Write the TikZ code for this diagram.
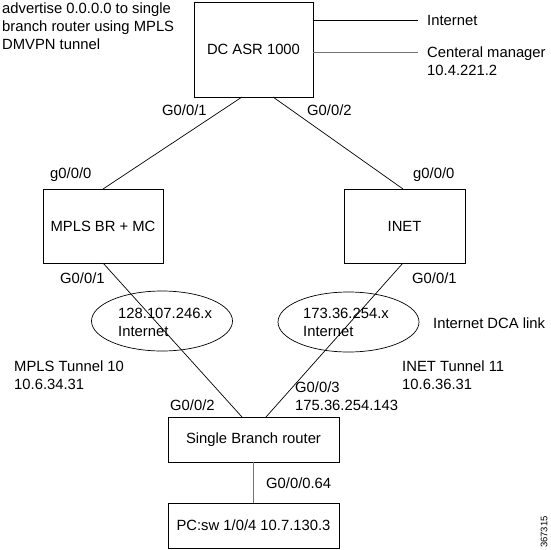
\documentclass[tikz,border=0pt]{standalone}
\usepackage{fontspec}
\setmainfont{Liberation Sans}
\usetikzlibrary{shapes.geometric}
\begin{document}
\begin{tikzpicture}[x=1pt,y=-1pt,
  every node/.style={font=\fontsize{14.8}{18}\selectfont},
  box/.style={draw,line width=0.7pt,inner sep=0pt},
  lbl/.style={anchor=west,inner sep=0pt,align=left},
  link/.style={line width=0.7pt},
  glink/.style={line width=0.8pt,draw=black!55},
  cloud/.style={draw,ellipse,line width=0.7pt,minimum width=141pt,minimum height=60pt,inner sep=0pt}]
\useasboundingbox (0,0) rectangle (550,550);
% boxes
\node[box,minimum width=119pt,minimum height=95pt] (dc) at (253.5,49.5) {DC ASR 1000};
\node[box,minimum width=120pt,minimum height=74pt] (mpls) at (103,226) {MPLS BR + MC};
\node[box,minimum width=121pt,minimum height=74pt] (inet) at (404.5,226) {INET};
\node[box,minimum width=171pt,minimum height=45pt] (br) at (253.5,439.5) {Single Branch router};
\node[box,minimum width=171pt,minimum height=45pt] (pc) at (253.5,525.5) {PC:sw 1/0/4 10.7.130.3};
% clouds
\node[cloud] (c1) at (162,321) {};
\node[cloud] (c2) at (348.5,322) {};
\node[lbl] (c1t) at (118,322) {128.107.246.x\\Internet};
\node[lbl] (c2t) at (303,322) {173.36.254.x\\Internet};
% side connectors
\coordinate (inetend) at (418,20);
\coordinate (cmend) at (418,52);
\draw[link] (dc.east|-inetend) -- (inetend);
\draw[glink] (dc.east|-cmend) -- (cmend);
\node[lbl] (inetl) at (427,20) {Internet};
\node[lbl] (cml) at (427,61.5) {Centeral manager\\10.4.221.2};
% links
\coordinate (dcl) at (242,97);
\coordinate (dcr) at (273,97);
\coordinate (mt) at (103,189);
\coordinate (it) at (403,189);
\coordinate (mb) at (103,263);
\coordinate (ib) at (403,263);
\coordinate (bl) at (242,417);
\coordinate (brr) at (266,417);
\draw[link] (dcl) -- (mt);
\draw[link] (dcr) -- (it);
\draw[link] (mb) -- (bl);
\draw[link] (ib) -- (brr);
\draw[glink] (br.south) -- (pc.north);
% labels
\node[lbl] (t0) at (2,26) {advertise 0.0.0.0 to single\\branch router using MPLS\\DMVPN tunnel};
\node[lbl] (g1) at (162,110) {G0/0/1};
\node[lbl] (g2) at (307,110) {G0/0/2};
\node[lbl] (g3) at (50,175) {g0/0/0};
\node[lbl] (g4) at (413,175) {g0/0/0};
\node[lbl] (g5) at (60,278) {G0/0/1};
\node[lbl] (g6) at (412,278) {G0/0/1};
\node[lbl] (dca) at (433,323) {Internet DCA link};
\node[lbl] (mt10) at (14,375) {MPLS Tunnel 10\\10.6.34.31};
\node[lbl] (it11) at (402,375) {INET Tunnel 11\\10.6.36.31};
\node[lbl] (g7) at (170,405) {G0/0/2};
\node[lbl] (g8) at (295,396.5) {G0/0/3\\175.36.254.143};
\node[lbl] (g9) at (266,483) {G0/0/0.64};
\node[inner sep=0pt,rotate=90,font=\fontsize{9.5}{11}\selectfont] (id) at (544,532) {367315};
\end{tikzpicture}
\end{document}
